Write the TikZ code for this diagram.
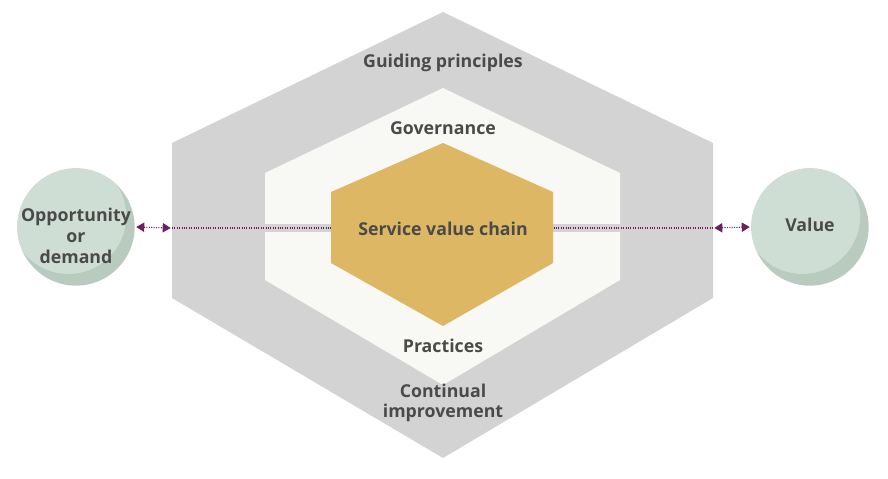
\documentclass[tikz,border=0pt]{standalone}
\usepackage{fontspec}
\setmainfont{Open Sans}
\usetikzlibrary{arrows.meta}
\definecolor{outergray}{HTML}{D3D3D3}
\definecolor{offwhite}{HTML}{F8F8F4}
\definecolor{chaingold}{HTML}{DDB764}
\definecolor{sagelight}{HTML}{CFDED5}
\definecolor{sagedark}{HTML}{B9CBBF}
\definecolor{linkpurple}{HTML}{6E1E5E}
\definecolor{textgray}{HTML}{4A4A4A}
\tikzset{
  lbl/.style={font=\bfseries\fontsize{13.3}{15.5}\selectfont,text=textgray,align=center},
  ball/.style={circle,inner sep=0pt,minimum size=88pt,fill=sagedark,
    path picture={\fill[sagelight] ([shift={(-7.6,-10.8)}]path picture bounding box.center) circle (43.3pt);}},
  link/.style={linkpurple,densely dotted,line width=0.8pt},
  biarrow/.style={link,{Triangle[length=6pt,width=7pt]}-{Triangle[length=6pt,width=7pt]}}
}
\begin{document}
\begin{tikzpicture}[x=0.75pt,y=-0.75pt]
\useasboundingbox (0,0) rectangle (888,478);
% outer hexagon
\fill[outergray] (443,12) -- (713,143) -- (713,298) -- (443,458) -- (172,298) -- (172,143) -- cycle;
% middle hexagon
\fill[offwhite] (443,88) -- (620,173) -- (620,280) -- (443,385) -- (265,280) -- (265,173) -- cycle;
\fill[outergray] (265,224) rectangle (620,232);
\coordinate (hexL) at (172,228);
\coordinate (hexR) at (713,228);
\draw[link] (hexL) -- (hexR);
% service value chain
\fill[chaingold] (443,143) -- (553,192) -- (553,263) -- (443,326) -- (331,263) -- (331,192) -- cycle;

\node[ball] (opp) at (76,227) {};
\node[ball] (val) at (810,227) {};
\draw[biarrow] ([xshift=1pt]opp.east) -- ([xshift=-1pt]hexL);
\draw[biarrow] ([xshift=1pt]hexR) -- ([xshift=-1pt]val.west);

\node[lbl] (guide) at (443,63) {Guiding principles};
\node[lbl] (gov) at (443,128) {Governance};
\node[lbl] (svc) at (443,229) {Service value chain};
\node[lbl] (prac) at (443,346) {Practices};
\node[lbl] (cont) at (443,403) {Continual\\improvement};
\node[lbl, font=\bfseries\fontsize{13.3}{16}\selectfont] (oppt) at (76,236) {Opportunity\\or\\demand};
\node[lbl] (valt) at (810,225) {Value};
\end{tikzpicture}
\end{document}
